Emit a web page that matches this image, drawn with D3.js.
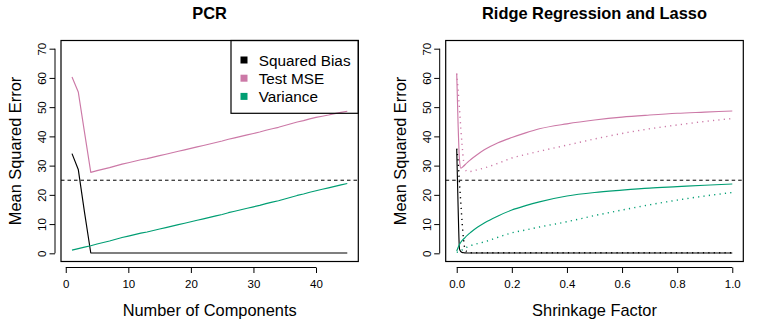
<!DOCTYPE html>
<html><head><meta charset="utf-8">
<script src="https://cdn.jsdelivr.net/npm/d3@7"></script>
<style>body{margin:0;background:#fff} text{font-family:"Liberation Sans",Arial,Helvetica,sans-serif;fill:#000}</style>
</head><body><svg id="c" width="767" height="322"></svg>
<script>
// ---------- data ----------
const pcrComponents = [1,2,3,4,5,6,7,8,9,10,11,12,13,14,15,16,17,18,19,20,21,22,23,24,25,26,27,28,29,30,31,32,33,34,35,36,37,38,39,40,41,42,43,44,45];
const pcrBias = [34.1,28.7,14.0,0.1,0.1,0.1,0.1,0.1,0.1,0.1,0.1,0.1,0.1,0.1,0.1,0.1,0.1,0.1,0.1,0.1,0.1,0.1,0.1,0.1,0.1,0.1,0.1,0.1,0.1,0.1,0.1,0.1,0.1,0.1,0.1,0.1,0.1,0.1,0.1,0.1,0.1,0.1,0.1,0.1,0.1];
const pcrVariance = [1.1,1.6,2.1,2.6,3.2,3.7,4.2,4.8,5.4,5.9,6.4,6.9,7.3,7.8,8.3,8.8,9.3,9.8,10.3,10.8,11.3,11.8,12.3,12.8,13.3,13.9,14.4,14.9,15.4,15.9,16.4,17.0,17.5,18.0,18.6,19.2,19.8,20.3,20.9,21.4,21.9,22.4,22.9,23.4,23.9];
const pcrMSE = [60.3,55.2,41.4,27.7,28.3,28.8,29.3,29.9,30.5,31.0,31.5,32.0,32.4,32.9,33.4,33.9,34.4,34.9,35.4,35.9,36.4,36.9,37.4,37.9,38.4,39.0,39.5,40.0,40.5,41.0,41.5,42.1,42.6,43.1,43.7,44.3,44.9,45.4,46.0,46.5,46.9,47.3,47.8,48.2,48.6];

const shrinkage = [0,0.005,0.01,0.015,0.02,0.025,0.03,0.04,0.05,0.075,0.1,0.15,0.2,0.25,0.3,0.4,0.5,0.6,0.7,0.8,0.9,1.0];
const ridgeBias = [35.5,16,1.5,0.6,0.3,0.2,0.15,0.1,0.1,0.1,0.1,0.1,0.1,0.1,0.1,0.1,0.1,0.1,0.1,0.1,0.1,0.1];
const ridgeVariance = [0.8,2.0,3.0,3.8,4.4,4.9,5.4,6.3,7.1,8.9,10.4,12.8,14.8,16.3,17.6,19.6,20.8,21.6,22.3,22.8,23.3,23.7];
const ridgeMSE = [61.4,44,32,29.1,29.4,29.8,30.3,31.2,32.0,33.8,35.4,37.8,39.6,41.2,42.6,44.3,45.6,46.6,47.3,47.9,48.3,48.7];
const lassoBias = [35.8,31.5,24,17,10,4.5,1.5,0.4,0.2,0.2,0.2,0.2,0.2,0.2,0.2,0.2,0.2,0.2,0.2,0.2,0.2,0.2];
const lassoVariance = [0.3,0.5,0.7,0.9,1.2,1.5,1.8,2.2,2.6,3.3,3.9,5.5,7.0,8.0,9.0,10.8,12.9,14.8,16.6,18.2,19.6,20.8];
const lassoMSE = [61.5,56,49.5,42.5,36.5,31.5,28.8,27.9,28.0,28.6,29.2,30.8,32.6,33.8,34.9,37.0,39.1,41.0,42.6,43.9,45.1,46.1];

const irreducible = 25;
const yTicks = [0,10,20,30,40,50,60,70];
const pcrTicks = [0,10,20,30,40];
const shrinkTicks = [0,0.2,0.4,0.6,0.8,1.0];
const legendLabels = ["Squared Bias","Test MSE","Variance"];
const titles = ["PCR","Ridge Regression and Lasso"];
const xTitles = ["Number of Components","Shrinkage Factor"];
const yTitle = "Mean Squared Error";

// ---------- styles ----------
const colBias = "#000000", colMSE = "#CC79A7", colVar = "#009E73";
const svg = d3.select("#c");
const plotTop = 40.5, plotBottom = 261.5;
const panels = [
  {x0: 61, x1: 358.3, domain: [-0.76, 46.76], ticks: pcrTicks, fmt: d3.format("d")},
  {x0: 445.7, x1: 743.3, domain: [-0.04, 1.04], ticks: shrinkTicks, fmt: d3.format(".1f")}
];
const y = d3.scaleLinear().domain([-2.8, 72.8]).range([plotBottom, plotTop]);

panels.forEach((p, i) => {
  const x = d3.scaleLinear().domain(p.domain).range([p.x0, p.x1]);
  p.x = x;
  const g = svg.append("g");
  g.append("text").attr("x", (p.x0 + p.x1) / 2).attr("y", 19).attr("text-anchor", "middle")
    .style("font-size", "16.4px").style("font-weight", "bold").text(titles[i]);
  const axY = plotBottom + 6;
  const xa = g.append("g").attr("transform", `translate(0,${axY})`)
    .call(d3.axisBottom(x).tickValues(p.ticks).tickFormat(p.fmt).tickSize(5.5).tickPadding(6.4));
  xa.select(".domain").remove();
  xa.selectAll("line").attr("stroke", "#000").attr("stroke-width", 1);
  xa.selectAll("text").style("font-size", "11.5px").attr("fill", "#000");
  g.append("line").attr("x1", x(p.ticks[0])).attr("x2", x(p.ticks[p.ticks.length - 1]))
    .attr("y1", axY).attr("y2", axY).attr("stroke", "#000").attr("stroke-width", 1);
  const axX = p.x0 - 6;
  const ya = g.append("g").attr("transform", `translate(${axX},0)`)
    .call(d3.axisLeft(y).tickValues(yTicks).tickSize(5.5));
  ya.select(".domain").remove();
  ya.selectAll("line").attr("stroke", "#000").attr("stroke-width", 1);
  ya.selectAll("text").style("font-size", "11.5px").attr("fill", "#000")
    .attr("x", null).attr("dy", null).attr("text-anchor", "middle")
    .attr("transform", "translate(-9.1,0) rotate(-90)");
  g.append("line").attr("x1", axX).attr("x2", axX).attr("y1", y(yTicks[0])).attr("y2", y(yTicks[yTicks.length - 1]))
    .attr("stroke", "#000").attr("stroke-width", 1);
  g.append("text").attr("x", (p.x0 + p.x1) / 2).attr("y", 316).attr("text-anchor", "middle")
    .style("font-size", "16.4px").text(xTitles[i]);
  g.append("text").attr("transform", `translate(${p.x0 - 40},${(plotTop + plotBottom) / 2}) rotate(-90)`)
    .attr("text-anchor", "middle").style("font-size", "16.4px").text(yTitle);
  g.append("line").attr("x1", p.x0).attr("x2", p.x1).attr("y1", y(irreducible)).attr("y2", y(irreducible))
    .attr("stroke", "#000").attr("stroke-width", 1).attr("stroke-dasharray", "3.5,3");
  g.append("rect").attr("x", p.x0).attr("y", plotTop).attr("width", p.x1 - p.x0).attr("height", plotBottom - plotTop)
    .attr("fill", "none").attr("stroke", "#000").attr("stroke-width", 1.2);
});

function drawLine(p, xs, ys, color, dotted, smooth) {
  const line = d3.line().x((d, i) => p.x(xs[i])).y(d => y(d))
    .curve(smooth ? d3.curveMonotoneX : d3.curveLinear);
  svg.append("path").datum(ys).attr("d", line).attr("fill", "none").attr("stroke", color)
    .attr("stroke-width", dotted ? 1.4 : 1.15).attr("stroke-dasharray", dotted ? "1.2,4.2" : null)
    .attr("stroke-linejoin", "round");
}

const L = panels[0], R = panels[1];
drawLine(L, pcrComponents, pcrBias, colBias, false, false);
drawLine(L, pcrComponents, pcrMSE, colMSE, false, false);
drawLine(L, pcrComponents, pcrVariance, colVar, false, false);

drawLine(R, shrinkage, lassoBias, colBias, true, true);
drawLine(R, shrinkage, lassoMSE, colMSE, true, true);
drawLine(R, shrinkage, lassoVariance, colVar, true, true);
drawLine(R, shrinkage, ridgeBias, colBias, false, true);
drawLine(R, shrinkage, ridgeMSE, colMSE, false, true);
drawLine(R, shrinkage, ridgeVariance, colVar, false, true);

const lg = svg.append("g");
lg.append("rect").attr("x", 231).attr("y", plotTop).attr("width", L.x1 - 231).attr("height", 113.3 - plotTop)
  .attr("fill", "none").attr("stroke", "#000").attr("stroke-width", 1.2);
const legCols = [colBias, colMSE, colVar];
legendLabels.forEach((t, i) => {
  const cy = 60 + i * 18.2;
  lg.append("rect").attr("x", 244 - 3.5).attr("y", cy - 3.5).attr("width", 7).attr("height", 7).attr("fill", legCols[i]);
  lg.append("text").attr("x", 258.7).attr("y", cy + 5.5).style("font-size", "15.3px").text(t);
});
</script></body></html>
